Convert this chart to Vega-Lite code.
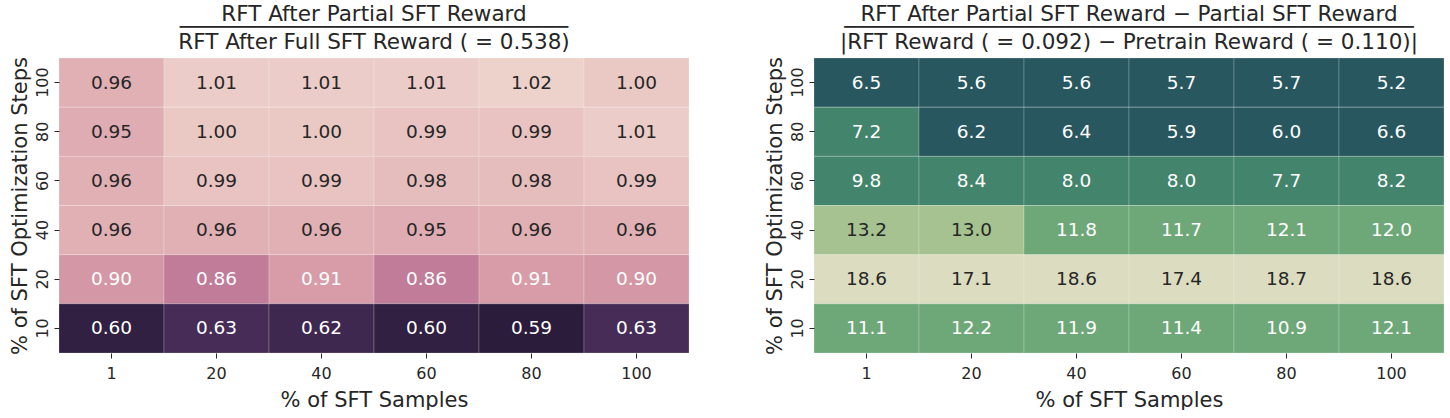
{
  "$schema": "https://vega.github.io/schema/vega-lite/v6.json",
  "padding": {"left": 8, "top": 3, "right": 0, "bottom": 0},
  "spacing": 73,
  "config": {
    "font": "DejaVu Sans",
    "view": {"stroke": null},
    "axis": {
      "domain": false,
      "ticks": true,
      "tickSize": 5,
      "tickColor": "#262626",
      "labelColor": "#262626",
      "labelFont": "DejaVu Sans",
      "labelFontSize": 16,
      "titleFont": "DejaVu Sans",
      "titleFontSize": 21,
      "titleFontWeight": "normal",
      "titleColor": "#262626",
      "grid": false
    },
    "axisX": {"labelPadding": 7},
    "axisY": {"labelPadding": 4},
    "title": {
      "font": "DejaVu Sans",
      "fontSize": 21.5,
      "lineHeight": 13,
      "fontWeight": "normal",
      "color": "#262626",
      "subtitleFont": "DejaVu Sans",
      "subtitleFontSize": 21.5,
      "subtitleColor": "#262626",
      "subtitlePadding": -6,
      "anchor": "middle",
      "offset": 3
    }
  },
  "datasets": {
    "ratio": [
      {"samples": "1", "steps": "100", "value": 0.96},
      {"samples": "20", "steps": "100", "value": 1.01},
      {"samples": "40", "steps": "100", "value": 1.01},
      {"samples": "60", "steps": "100", "value": 1.01},
      {"samples": "80", "steps": "100", "value": 1.02},
      {"samples": "100", "steps": "100", "value": 1.00},
      {"samples": "1", "steps": "80", "value": 0.95},
      {"samples": "20", "steps": "80", "value": 1.00},
      {"samples": "40", "steps": "80", "value": 1.00},
      {"samples": "60", "steps": "80", "value": 0.99},
      {"samples": "80", "steps": "80", "value": 0.99},
      {"samples": "100", "steps": "80", "value": 1.01},
      {"samples": "1", "steps": "60", "value": 0.96},
      {"samples": "20", "steps": "60", "value": 0.99},
      {"samples": "40", "steps": "60", "value": 0.99},
      {"samples": "60", "steps": "60", "value": 0.98},
      {"samples": "80", "steps": "60", "value": 0.98},
      {"samples": "100", "steps": "60", "value": 0.99},
      {"samples": "1", "steps": "40", "value": 0.96},
      {"samples": "20", "steps": "40", "value": 0.96},
      {"samples": "40", "steps": "40", "value": 0.96},
      {"samples": "60", "steps": "40", "value": 0.95},
      {"samples": "80", "steps": "40", "value": 0.96},
      {"samples": "100", "steps": "40", "value": 0.96},
      {"samples": "1", "steps": "20", "value": 0.90},
      {"samples": "20", "steps": "20", "value": 0.86},
      {"samples": "40", "steps": "20", "value": 0.91},
      {"samples": "60", "steps": "20", "value": 0.86},
      {"samples": "80", "steps": "20", "value": 0.91},
      {"samples": "100", "steps": "20", "value": 0.90},
      {"samples": "1", "steps": "10", "value": 0.60},
      {"samples": "20", "steps": "10", "value": 0.63},
      {"samples": "40", "steps": "10", "value": 0.62},
      {"samples": "60", "steps": "10", "value": 0.60},
      {"samples": "80", "steps": "10", "value": 0.59},
      {"samples": "100", "steps": "10", "value": 0.63}
    ],
    "gain": [
      {"samples": "1", "steps": "100", "value": 6.5},
      {"samples": "20", "steps": "100", "value": 5.6},
      {"samples": "40", "steps": "100", "value": 5.6},
      {"samples": "60", "steps": "100", "value": 5.7},
      {"samples": "80", "steps": "100", "value": 5.7},
      {"samples": "100", "steps": "100", "value": 5.2},
      {"samples": "1", "steps": "80", "value": 7.2},
      {"samples": "20", "steps": "80", "value": 6.2},
      {"samples": "40", "steps": "80", "value": 6.4},
      {"samples": "60", "steps": "80", "value": 5.9},
      {"samples": "80", "steps": "80", "value": 6.0},
      {"samples": "100", "steps": "80", "value": 6.6},
      {"samples": "1", "steps": "60", "value": 9.8},
      {"samples": "20", "steps": "60", "value": 8.4},
      {"samples": "40", "steps": "60", "value": 8.0},
      {"samples": "60", "steps": "60", "value": 8.0},
      {"samples": "80", "steps": "60", "value": 7.7},
      {"samples": "100", "steps": "60", "value": 8.2},
      {"samples": "1", "steps": "40", "value": 13.2},
      {"samples": "20", "steps": "40", "value": 13.0},
      {"samples": "40", "steps": "40", "value": 11.8},
      {"samples": "60", "steps": "40", "value": 11.7},
      {"samples": "80", "steps": "40", "value": 12.1},
      {"samples": "100", "steps": "40", "value": 12.0},
      {"samples": "1", "steps": "20", "value": 18.6},
      {"samples": "20", "steps": "20", "value": 17.1},
      {"samples": "40", "steps": "20", "value": 18.6},
      {"samples": "60", "steps": "20", "value": 17.4},
      {"samples": "80", "steps": "20", "value": 18.7},
      {"samples": "100", "steps": "20", "value": 18.6},
      {"samples": "1", "steps": "10", "value": 11.1},
      {"samples": "20", "steps": "10", "value": 12.2},
      {"samples": "40", "steps": "10", "value": 11.9},
      {"samples": "60", "steps": "10", "value": 11.4},
      {"samples": "80", "steps": "10", "value": 10.9},
      {"samples": "100", "steps": "10", "value": 12.1}
    ]
  },
  "hconcat": [
    {
      "data": {"name": "ratio"},
      "width": 630,
      "height": 295,
      "title": {
        "text": ["RFT After Partial SFT Reward", "\u2500\u2500\u2500\u2500\u2500\u2500\u2500\u2500\u2500\u2500\u2500\u2500\u2500\u2500\u2500\u2500\u2500\u2500\u2500\u2500\u2500\u2500\u2500\u2500\u2500\u2500\u2500\u2500\u2500\u2500"],
        "subtitle": "RFT After Full SFT Reward ( = 0.538)"
      },
      "encoding": {
        "x": {
          "field": "samples", "type": "nominal",
          "sort": ["1", "20", "40", "60", "80", "100"],
          "scale": {"paddingInner": 0, "paddingOuter": 0},
          "axis": {"title": "% of SFT Samples", "labelAngle": 0, "titlePadding": 8}
        },
        "y": {
          "field": "steps", "type": "nominal",
          "sort": ["100", "80", "60", "40", "20", "10"],
          "scale": {"paddingInner": 0, "paddingOuter": 0},
          "axis": {"title": "% of SFT Optimization Steps", "labelAngle": -90, "labelAlign": "center", "labelBaseline": "bottom", "titlePadding": 4}
        }
      },
      "layer": [
        {
          "mark": {"type": "rect", "stroke": "#ffffff", "strokeWidth": 0.6, "strokeOpacity": 0.35},
          "encoding": {
            "color": {
              "field": "value", "type": "quantitative", "legend": null,
              "scale": {
                "domain": [0.59, 0.63, 0.86, 0.905, 0.96, 0.99, 1.02],
                "range": ["#2a1c3a", "#462c56", "#c07c98", "#d69aa7", "#e0b0b4", "#e8c3c1", "#edd1cb"],
                "interpolate": "rgb"
              }
            }
          }
        },
        {
          "mark": {"type": "text", "fontSize": 18.5, "font": "DejaVu Sans"},
          "encoding": {
            "text": {"field": "value", "type": "quantitative", "format": ".2f"},
            "color": {
              "condition": {"test": "datum.value < 0.93", "value": "#ffffff"},
              "value": "#262626"
            }
          }
        }
      ]
    },
    {
      "data": {"name": "gain"},
      "width": 630,
      "height": 295,
      "title": {
        "text": ["RFT After Partial SFT Reward \u2212 Partial SFT Reward", "\u2500\u2500\u2500\u2500\u2500\u2500\u2500\u2500\u2500\u2500\u2500\u2500\u2500\u2500\u2500\u2500\u2500\u2500\u2500\u2500\u2500\u2500\u2500\u2500\u2500\u2500\u2500\u2500\u2500\u2500\u2500\u2500\u2500\u2500\u2500\u2500\u2500\u2500\u2500\u2500\u2500\u2500\u2500\u2500"],
        "subtitle": "|RFT Reward ( = 0.092) \u2212 Pretrain Reward ( = 0.110)|"
      },
      "encoding": {
        "x": {
          "field": "samples", "type": "nominal",
          "sort": ["1", "20", "40", "60", "80", "100"],
          "scale": {"paddingInner": 0, "paddingOuter": 0},
          "axis": {"title": "% of SFT Samples", "labelAngle": 0, "titlePadding": 8}
        },
        "y": {
          "field": "steps", "type": "nominal",
          "sort": ["100", "80", "60", "40", "20", "10"],
          "scale": {"paddingInner": 0, "paddingOuter": 0},
          "axis": {"title": "% of SFT Optimization Steps", "labelAngle": -90, "labelAlign": "center", "labelBaseline": "bottom", "titlePadding": 4}
        }
      },
      "layer": [
        {
          "mark": {"type": "rect", "stroke": "#ffffff", "strokeWidth": 0.6, "strokeOpacity": 0.35},
          "encoding": {
            "color": {
              "field": "value", "type": "quantitative", "legend": null,
              "scale": {
                "type": "threshold",
                "domain": [7, 10.5, 12.5, 15],
                "range": ["#28575f", "#43846c", "#6ea878", "#a5c290", "#dcdcc0"]
              }
            }
          }
        },
        {
          "mark": {"type": "text", "fontSize": 18.5, "font": "DejaVu Sans"},
          "encoding": {
            "text": {"field": "value", "type": "quantitative", "format": ".1f"},
            "color": {
              "condition": {"test": "datum.value < 12.5", "value": "#ffffff"},
              "value": "#262626"
            }
          }
        }
      ]
    }
  ]
}
